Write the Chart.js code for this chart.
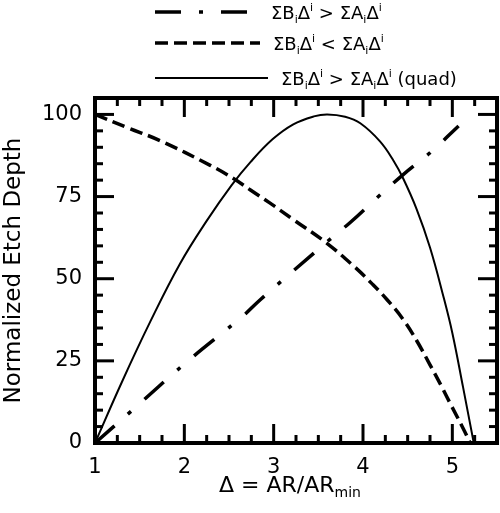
<!DOCTYPE html>
<html lang="en">
<head>
<meta charset="UTF-8" />
<title>Normalized Etch Depth</title>
<script src="https://cdn.jsdelivr.net/npm/chart.js@4.4.1/dist/chart.umd.min.js"></script>
<style>
    html, body { margin: 0; padding: 0; background: #fff; }
</style>
</head>
<body>
<canvas id="etchChart" width="500" height="513"></canvas>
<script>
    // values: delta = AR/ARmin, depth in %
    const deltaDashDot = [1.0, 1.41, 2.02, 2.65, 2.85, 3.6, 3.86, 4.16, 4.45, 4.77, 5.07];
    const depthDashDot = [0, 9.8, 24.5, 38.5, 43.6, 61.3, 67.2, 74.7, 81.7, 88.8, 96.5];

    const deltaDashed = [1.0, 1.36, 1.73, 2.29, 2.55, 2.74, 2.96, 3.22, 3.6, 3.91, 4.1, 4.27, 4.45, 4.6, 4.75, 4.88, 4.99, 5.12, 5.2];
    const depthDashed = [100, 96, 92, 84.5, 80.5, 77, 73, 68, 60.7, 53.5, 48.5, 43.6, 37.6, 31.2, 23.8, 17.2, 11.3, 4.5, 0];

    const deltaQuad = [1.0, 1.3, 1.62, 1.95, 2.25, 2.53, 2.74, 2.99, 3.22, 3.45, 3.6, 3.8, 3.97, 4.19, 4.34, 4.45, 4.6, 4.75, 4.9, 5.0, 5.12, 5.24];
    const depthQuad = [0, 18.5, 37, 54.5, 67.6, 78.5, 85.5, 92.5, 97, 99.4, 100, 99.3, 97.3, 91.8, 86, 80.5, 71.2, 59.5, 44.6, 33.5, 17, 0];

    const seriesLabels = ['ΣB_iΔ^i > ΣA_iΔ^i', 'ΣB_iΔ^i < ΣA_iΔ^i', 'ΣB_iΔ^i > ΣA_iΔ^i (quad)'];
    const xTickValues = [1, 2, 3, 4, 5];
    const yTickValues = [0, 25, 50, 75, 100];
    const xTitle = 'Δ = AR/AR_{min}';
    const yTitle = 'Normalized Etch Depth';

    const FONT = '"DejaVu Sans", sans-serif';

    function toPoints(xs, ys) {
        return xs.map((v, i) => ({x: v, y: ys[i]}));
    }

    // text with _sub / ^sup pieces, y is the baseline
    function drawRich(ctx, str, x, y, size, align) {
        const parts = [];
        let i = 0;
        while (i < str.length) {
            const ch = str[i];
            if (ch === '_' || ch === '^') {
                let t;
                if (str[i + 1] === '{') {
                    const j = str.indexOf('}', i);
                    t = str.slice(i + 2, j);
                    i = j + 1;
                } else {
                    t = str[i + 1];
                    i += 2;
                }
                parts.push({t, kind: ch});
            } else {
                let j = i;
                while (j < str.length && str[j] !== '_' && str[j] !== '^') j++;
                parts.push({t: str.slice(i, j), kind: ''});
                i = j;
            }
        }
        const small = Math.round(size * 0.62);
        let total = 0;
        parts.forEach(p => {
            ctx.font = `${p.kind ? small : size}px ${FONT}`;
            p.w = ctx.measureText(p.t).width;
            total += p.w;
        });
        let cx = align === 'center' ? x - total / 2 : x;
        ctx.textAlign = 'left';
        ctx.textBaseline = 'alphabetic';
        parts.forEach(p => {
            ctx.font = `${p.kind ? small : size}px ${FONT}`;
            let dy = 0;
            if (p.kind === '_') dy = size * 0.24;
            if (p.kind === '^') dy = -size * 0.42;
            ctx.fillText(p.t, cx, y + dy);
            cx += p.w;
        });
    }

    // closed frame with inward ticks on all four sides
    const frameTicks = {
        id: 'frameTicks',
        afterDatasetsDraw(chart) {
            const {ctx, chartArea: a, scales: {x, y}} = chart;
            ctx.save();
            ctx.strokeStyle = '#000';
            ctx.lineWidth = 3;
            ctx.lineCap = 'butt';
            const seg = (x1, y1, x2, y2) => {
                ctx.beginPath();
                ctx.moveTo(x1, y1);
                ctx.lineTo(x2, y2);
                ctx.stroke();
            };
            for (let v = x.min; v <= x.max + 1e-9; v += 0.25) {
                const px = x.getPixelForValue(v);
                const len = Math.abs(v - Math.round(v)) < 1e-6 ? 19 : 8;
                seg(px, a.bottom, px, a.bottom - len);
                seg(px, a.top, px, a.top + len);
            }
            for (let v = y.min; v <= y.max + 1e-9; v += 5) {
                const py = y.getPixelForValue(v);
                const len = v % 25 === 0 ? 19 : 8;
                seg(a.left, py, a.left + len, py);
                seg(a.right, py, a.right - len, py);
            }
            ctx.lineWidth = 4;
            ctx.strokeRect(a.left, a.top, a.right - a.left, a.bottom - a.top);
            ctx.restore();
        }
    };

    // legend block above the plot and the x title with subscript
    const legendAndTitle = {
        id: 'legendAndTitle',
        afterDraw(chart) {
            const {ctx} = chart;
            const rowY = [12, 43, 78];
            const lineEnd = [258, 260, 268];
            ctx.save();
            ctx.fillStyle = '#000';
            chart.data.datasets.forEach((ds, i) => {
                ctx.strokeStyle = '#000';
                ctx.lineWidth = ds.borderWidth;
                ctx.setLineDash(ds.borderDash || []);
                ctx.beginPath();
                ctx.moveTo(155, rowY[i]);
                ctx.lineTo(lineEnd[i], rowY[i]);
                ctx.stroke();
                ctx.setLineDash([]);
                drawRich(ctx, ds.label, lineEnd[i] + 13, rowY[i] + 6.5, 18, 'left');
            });
            drawRich(ctx, xTitle, 290, 492, 22, 'center');
            ctx.restore();
        }
    };

    const ctx = document.getElementById('etchChart').getContext('2d');
    new Chart(ctx, {
        type: 'scatter',
        data: {
            datasets: [
                {
                    label: seriesLabels[0],
                    data: toPoints(deltaDashDot, depthDashDot),
                    borderColor: '#000',
                    borderWidth: 3.5,
                    borderDash: [26, 18, 4, 18]
                },
                {
                    label: seriesLabels[1],
                    data: toPoints(deltaDashed, depthDashed),
                    borderColor: '#000',
                    borderWidth: 3.5,
                    borderDash: [13, 6]
                },
                {
                    label: seriesLabels[2],
                    data: toPoints(deltaQuad, depthQuad),
                    borderColor: '#000',
                    borderWidth: 2
                }
            ]
        },
        options: {
            responsive: false,
            animation: false,
            showLine: true,
            layout: {padding: {top: 98, right: 3, left: 0, bottom: 0}},
            elements: {
                point: {radius: 0, hoverRadius: 0},
                line: {tension: 0.4, borderCapStyle: 'butt'}
            },
            scales: {
                x: {
                    type: 'linear',
                    min: 1,
                    max: 5.5,
                    afterBuildTicks: s => { s.ticks = xTickValues.map(v => ({value: v})); },
                    afterFit: s => { s.height = 70; },
                    grid: {display: false, drawTicks: false},
                    border: {display: false},
                    ticks: {color: '#000', padding: 12, font: {family: FONT, size: 21}}
                },
                y: {
                    type: 'linear',
                    min: 0,
                    max: 105,
                    afterBuildTicks: s => { s.ticks = yTickValues.map(v => ({value: v})); },
                    afterFit: s => { s.width = 95; },
                    grid: {display: false, drawTicks: false},
                    border: {display: false},
                    ticks: {color: '#000', padding: 13, font: {family: FONT, size: 21}},
                    title: {
                        display: true,
                        text: yTitle,
                        color: '#000',
                        padding: {top: 0, bottom: 0},
                        font: {family: FONT, size: 23}
                    }
                }
            },
            plugins: {
                legend: {display: false},
                tooltip: {enabled: false}
            }
        },
        plugins: [frameTicks, legendAndTitle]
    });
</script>
</body>
</html>
